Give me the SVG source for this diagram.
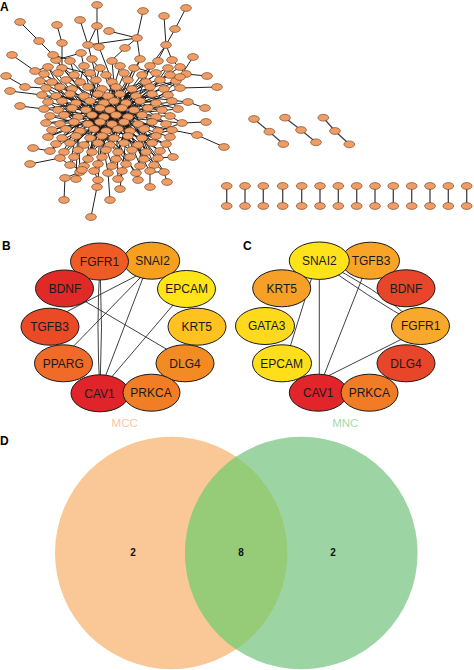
<svg xmlns="http://www.w3.org/2000/svg" xmlns:xlink="http://www.w3.org/1999/xlink" width="474" height="670" viewBox="0 0 474 670">
<style>
.lbl{font-family:"Liberation Sans",Arial,sans-serif;font-weight:bold;font-size:12px;fill:#000}
.nt{font-family:"Liberation Sans",Arial,sans-serif;font-size:12px;fill:#1a1a1a;text-anchor:middle}
.nb{stroke:#1a1a1a;stroke-width:1}
.e{stroke:#2a2a2a;stroke-width:0.9;fill:none}
.ea{stroke:#151515;stroke-width:0.95;fill:none}
.ep{stroke:#444;stroke-width:1.3;fill:none}
.cap{font-family:"Liberation Sans",Arial,sans-serif;font-size:11.5px;text-anchor:middle}
.vn{font-family:"Liberation Sans",Arial,sans-serif;font-size:10px;font-weight:bold;text-anchor:middle;fill:#111}
</style>
<defs>
<ellipse id="nd" cx="0" cy="0" rx="5.4" ry="3.4" fill="#EE9D66" stroke="#6A3A1A" stroke-width="0.6"/>
<clipPath id="clL"><circle cx="171.2" cy="553" r="116.2"/></clipPath>
</defs>
<rect width="474" height="670" fill="#fff"/>

<text class="lbl" x="0" y="11">A</text>
<text class="lbl" x="2" y="250">B</text>
<text class="lbl" x="243" y="250">C</text>
<text class="lbl" x="0" y="445">D</text>

<g id="connectors">
<g id="edges-A">
<path class="ea" d="M104 116L56 60M104 116L92 60M104 116L140 60M104 116L44 74M104 116L90 74M104 116L156 74M104 116L40 81M104 116L112 81M104 116L176 81M104 116L46 88M104 116L150 88M104 116L180 88M104 116L42 95M104 116L168 95M104 116L48 102M104 116L188 102M104 116L44 109M104 116L178 109M104 116L50 116M104 116L170 116M104 116L46 123M104 116L182 123M104 116L52 130M104 116L172 130M104 116L48 137M104 116L170 137M104 116L56 144M104 116L166 144M104 116L50 151M104 116L160 151M104 116L60 158M104 116L158 158M104 116L70 165M104 116L154 165M104 116L80 172M104 116L164 172M104 116L98 179M104 116L138 179"/>
<path class="ea" d="M116 109L70 60M116 109L112 60M116 109L158 60M116 109L62 67M116 109L134 67M116 109L180 67M116 109L74 74M116 109L142 74M116 109L66 81M116 109L146 81M116 109L60 88M116 109L164 88M116 109L56 95M116 109L152 95M116 109L62 102M116 109L172 102M116 109L58 109M116 109L162 109M116 109L64 116M116 109L156 116M116 109L60 123M116 109L166 123M116 109L66 130M116 109L158 130M116 109L62 137M116 109L156 137M116 109L70 144M116 109L152 144M116 109L64 151M116 109L146 151M116 109L74 158M116 109L144 158M116 109L84 165M116 109L140 165M116 109L94 172M116 109L150 172M116 109L118 179"/>
<path class="ea" d="M100 130L48 67M100 130L84 67M100 130L120 67M100 130L58 74M100 130L124 74M100 130L170 74M100 130L52 81M100 130L128 81M100 130L160 81M100 130L72 88M100 130L132 88M100 130L70 95M100 130L136 95M100 130L76 102M100 130L156 102M100 130L72 109M100 130L148 109M100 130L78 116M100 130L142 116M100 130L74 123M100 130L152 123M100 130L80 130M100 130L144 130M100 130L76 137M100 130L142 137M100 130L84 144M100 130L138 144M100 130L78 151M100 130L132 151M100 130L88 158M100 130L130 158M100 130L98 165M100 130L126 165M100 130L108 172M100 130L136 172M100 130L76 179"/>
<path class="ea" d="M128 123L100 67M128 123L150 67M128 123L168 67M128 123L106 74M128 123L186 74M128 123L80 81M128 123L96 81M128 123L88 88M128 123L116 88M128 123L84 95M128 123L98 95M128 123L120 95M128 123L90 102M128 123L140 102M128 123L86 109M128 123L134 109M128 123L92 116M128 123L116 116M128 123L88 123M128 123L138 123M128 123L94 130M128 123L130 130M128 123L90 137M128 123L128 137M128 123L98 144M128 123L124 144M128 123L92 151M128 123L118 151M128 123L102 158M128 123L116 158M128 123L112 165M128 123L122 172"/>
<path class="ea" d="M90 102L56 60M90 102L100 67M90 102L44 74M90 102L146 81M90 102L42 95M90 102L156 102M90 102L44 109M90 102L62 137M90 102L92 151M90 102L88 158M90 102L112 165M124 95L92 60M124 95L140 60M124 95L168 67M124 95L170 74M124 95L176 81M124 95L102 88M124 95L188 102M124 95L178 109M124 95L170 116M124 95L166 123M124 95L158 130M124 95L152 144M124 95L146 151M124 95L130 158M142 137L104 102M142 137L114 102M142 137L162 109M142 137L182 123M142 137L172 130M142 137L166 144M142 137L160 151M142 137L158 158M142 137L154 165M142 137L164 172M142 137L138 179M78 123L48 67M78 123L52 81M78 123L46 88M78 123L56 95M78 123L48 102M78 123L58 109M78 123L50 116M78 123L46 123M78 123L52 130M78 123L48 137M78 123L56 144M78 123L50 151M78 123L60 158M78 123L70 165M78 123L80 172M78 123L76 179"/>
<path class="ea" d="M62 67L90 74M150 67L142 74M134 67L156 74M84 67L80 81M70 60L74 74M172 60L186 74M40 81L52 81M160 81L180 88M42 95L48 102M172 102L178 109M50 116L46 123M170 116L182 123M52 130L48 137M172 130L170 137M56 144L50 151M166 144L160 151M60 158L70 165M158 158L154 165M80 172L76 179M164 172L150 172M94 172L98 179M122 172L118 179"/>
<path class="ea" d="M97 5L97 26M97 26L88 45M97 26L99 47M88 45L137 38M109 31L137 38M143 11L137 38M137 38L125 48M137 38L140 60M186 8L175 29M175 29L166 45M164 16L166 45M166 45L158 60M166 45L172 60M166 45L150 67M20 22L39 41M39 41L53 55M53 55L70 60M53 55L56 60M57 25L62 43M62 43L62 67M80 20L88 45M88 45L92 60M125 48L112 60M99 47L112 81M81 53L84 67M81 53L56 60M12 55L35 71M35 71L44 74M35 71L48 67M6 76L25 87M25 87L46 88M10 91L42 95M20 106L44 109M193 57L180 77M180 77L170 74M180 77L186 74M207 76L186 74M217 87L180 88M205 108L188 102M206 122L182 123M197 135L172 130M224 147L197 135M33 148L50 151M30 164L60 158M65 178L64 200M65 178L80 172M82 170L70 165M91 217L97 187M97 187L98 179M110 200L108 172M120 189L122 172M138 179L136 172M150 187L150 172M167 182L164 172M173 157L158 158M173 157L166 144"/>
<path class="ep" d="M254 119L269.3 131.7L283.3 144M285 117.7L301 130L316 142.3M323.3 117.7L335 131L349.3 144.3M226.7 186V206M245 186V206M263.3 186V206M282.7 186V206M301.7 186V206M320 186V206M338.3 186V206M356.7 186V206M375 186V206M393.3 186V206M411.7 186V206M430 186V206M448.3 186V206M466.7 186V206"/>
</g>
<g id="edges-B">
<path class="e" d="M100 262Q96 327 100 393M100 262Q103 327 100 393"/>
<path class="e" d="M151.7 268L50 320.3"/>
<path class="e" d="M151.7 266L63 357"/>
<path class="e" d="M149 262L99 393"/>
<path class="e" d="M186.7 289L98 393"/>
<path class="e" d="M65 289.5L185 360"/>
</g>
<g id="edges-C">
<path class="e" d="M319.3 261L319.3 393"/>
<path class="e" d="M317 261L285 363"/>
<path class="e" d="M369 261L317 393"/>
<path class="e" d="M319 261Q366 296 420 326M319 261Q373 285 420 326"/>
<path class="e" d="M420 330L318 381"/>
</g>
</g>

<g id="nodes-A">
<use id="a1" href="#nd" x="81" y="53"/><use id="a2" href="#nd" x="99" y="47"/><use id="a3" href="#nd" x="125" y="48"/><use id="a4" href="#nd" x="166" y="45"/>
<use href="#nd" x="56" y="60"/><use href="#nd" x="70" y="61"/><use href="#nd" x="92" y="59"/><use href="#nd" x="112" y="61"/><use href="#nd" x="140" y="59"/><use href="#nd" x="158" y="61"/><use href="#nd" x="172" y="60"/>
<use href="#nd" x="48" y="67"/><use href="#nd" x="62" y="68"/><use href="#nd" x="84" y="66"/><use href="#nd" x="100" y="68"/><use href="#nd" x="120" y="66"/><use href="#nd" x="134" y="68"/><use href="#nd" x="150" y="66"/><use href="#nd" x="168" y="68"/><use href="#nd" x="180" y="67"/>
<use href="#nd" x="44" y="74"/><use href="#nd" x="58" y="73"/><use href="#nd" x="74" y="75"/><use href="#nd" x="90" y="73"/><use href="#nd" x="106" y="75"/><use href="#nd" x="124" y="73"/><use href="#nd" x="142" y="75"/><use href="#nd" x="156" y="73"/><use href="#nd" x="170" y="75"/><use href="#nd" x="186" y="74"/>
<use href="#nd" x="40" y="81"/><use href="#nd" x="52" y="82"/><use href="#nd" x="66" y="80"/><use href="#nd" x="80" y="82"/><use href="#nd" x="96" y="80"/><use href="#nd" x="112" y="82"/><use href="#nd" x="128" y="80"/><use href="#nd" x="146" y="82"/><use href="#nd" x="160" y="80"/><use href="#nd" x="176" y="81"/>
<use href="#nd" x="46" y="88"/><use href="#nd" x="60" y="87"/><use href="#nd" x="72" y="89"/><use href="#nd" x="88" y="87"/><use href="#nd" x="102" y="89"/><use href="#nd" x="116" y="87"/><use href="#nd" x="132" y="89"/><use href="#nd" x="150" y="87"/><use href="#nd" x="164" y="89"/><use href="#nd" x="180" y="88"/>
<use href="#nd" x="42" y="95"/><use href="#nd" x="56" y="96"/><use href="#nd" x="70" y="94"/><use href="#nd" x="84" y="96"/><use href="#nd" x="98" y="94"/><use href="#nd" x="108" y="96"/><use href="#nd" x="120" y="94"/><use href="#nd" x="136" y="96"/><use href="#nd" x="152" y="94"/><use href="#nd" x="168" y="95"/>
<use href="#nd" x="48" y="102"/><use href="#nd" x="62" y="101"/><use href="#nd" x="76" y="103"/><use href="#nd" x="90" y="101"/><use href="#nd" x="104" y="103"/><use href="#nd" x="114" y="101"/><use href="#nd" x="126" y="103"/><use href="#nd" x="140" y="101"/><use href="#nd" x="156" y="103"/><use href="#nd" x="172" y="101"/><use href="#nd" x="188" y="102"/>
<use href="#nd" x="44" y="109"/><use href="#nd" x="58" y="110"/><use href="#nd" x="72" y="108"/><use href="#nd" x="86" y="110"/><use href="#nd" x="100" y="108"/><use href="#nd" x="110" y="110"/><use href="#nd" x="122" y="108"/><use href="#nd" x="134" y="110"/><use href="#nd" x="148" y="108"/><use href="#nd" x="162" y="110"/><use href="#nd" x="178" y="109"/>
<use href="#nd" x="50" y="116"/><use href="#nd" x="64" y="115"/><use href="#nd" x="78" y="117"/><use href="#nd" x="92" y="115"/><use href="#nd" x="104" y="117"/><use href="#nd" x="116" y="115"/><use href="#nd" x="128" y="117"/><use href="#nd" x="142" y="115"/><use href="#nd" x="156" y="117"/><use href="#nd" x="170" y="116"/>
<use href="#nd" x="46" y="123"/><use href="#nd" x="60" y="124"/><use href="#nd" x="74" y="122"/><use href="#nd" x="88" y="124"/><use href="#nd" x="100" y="122"/><use href="#nd" x="112" y="124"/><use href="#nd" x="124" y="122"/><use href="#nd" x="138" y="124"/><use href="#nd" x="152" y="122"/><use href="#nd" x="166" y="124"/><use href="#nd" x="182" y="123"/>
<use href="#nd" x="52" y="130"/><use href="#nd" x="66" y="129"/><use href="#nd" x="80" y="131"/><use href="#nd" x="94" y="129"/><use href="#nd" x="106" y="131"/><use href="#nd" x="118" y="129"/><use href="#nd" x="130" y="131"/><use href="#nd" x="144" y="129"/><use href="#nd" x="158" y="131"/><use href="#nd" x="172" y="130"/>
<use href="#nd" x="48" y="137"/><use href="#nd" x="62" y="138"/><use href="#nd" x="76" y="136"/><use href="#nd" x="90" y="138"/><use href="#nd" x="102" y="136"/><use href="#nd" x="114" y="138"/><use href="#nd" x="128" y="136"/><use href="#nd" x="142" y="138"/><use href="#nd" x="156" y="136"/><use href="#nd" x="170" y="137"/>
<use href="#nd" x="56" y="144"/><use href="#nd" x="70" y="143"/><use href="#nd" x="84" y="145"/><use href="#nd" x="98" y="143"/><use href="#nd" x="110" y="145"/><use href="#nd" x="124" y="143"/><use href="#nd" x="138" y="145"/><use href="#nd" x="152" y="143"/><use href="#nd" x="166" y="144"/>
<use href="#nd" x="50" y="151"/><use href="#nd" x="64" y="152"/><use href="#nd" x="78" y="150"/><use href="#nd" x="92" y="152"/><use href="#nd" x="106" y="150"/><use href="#nd" x="118" y="152"/><use href="#nd" x="132" y="150"/><use href="#nd" x="146" y="152"/><use href="#nd" x="160" y="151"/>
<use href="#nd" x="60" y="158"/><use href="#nd" x="74" y="157"/><use href="#nd" x="88" y="159"/><use href="#nd" x="102" y="157"/><use href="#nd" x="116" y="159"/><use href="#nd" x="130" y="157"/><use href="#nd" x="144" y="159"/><use href="#nd" x="158" y="158"/>
<use href="#nd" x="70" y="165"/><use href="#nd" x="84" y="166"/><use href="#nd" x="98" y="164"/><use href="#nd" x="112" y="166"/><use href="#nd" x="126" y="164"/><use href="#nd" x="140" y="166"/><use href="#nd" x="154" y="165"/>
<use href="#nd" x="80" y="172"/><use href="#nd" x="94" y="171"/><use href="#nd" x="108" y="173"/><use href="#nd" x="122" y="171"/><use href="#nd" x="136" y="173"/><use href="#nd" x="150" y="171"/><use href="#nd" x="164" y="172"/>
<use href="#nd" x="76" y="179"/><use href="#nd" x="98" y="180"/><use href="#nd" x="118" y="179"/><use href="#nd" x="138" y="180"/>
<use href="#nd" x="97" y="5"/><use href="#nd" x="97" y="26"/><use href="#nd" x="143" y="11"/><use href="#nd" x="186" y="8"/><use href="#nd" x="175" y="29"/><use href="#nd" x="164" y="16"/><use href="#nd" x="20" y="22"/><use href="#nd" x="39" y="41"/><use href="#nd" x="53" y="55"/><use href="#nd" x="57" y="25"/><use href="#nd" x="62" y="43"/><use href="#nd" x="80" y="20"/><use href="#nd" x="88" y="45"/><use href="#nd" x="109" y="31"/><use href="#nd" x="137" y="38"/>
<use href="#nd" x="12" y="55"/><use href="#nd" x="35" y="71"/><use href="#nd" x="6" y="76"/><use href="#nd" x="25" y="87"/><use href="#nd" x="10" y="91"/><use href="#nd" x="20" y="106"/><use href="#nd" x="193" y="57"/><use href="#nd" x="180" y="77"/><use href="#nd" x="207" y="76"/><use href="#nd" x="217" y="87"/><use href="#nd" x="205" y="108"/><use href="#nd" x="206" y="122"/><use href="#nd" x="197" y="135"/><use href="#nd" x="224" y="147"/>
<use href="#nd" x="33" y="148"/><use href="#nd" x="30" y="164"/><use href="#nd" x="65" y="178"/><use href="#nd" x="64" y="200"/><use href="#nd" x="82" y="170"/><use href="#nd" x="91" y="217"/><use href="#nd" x="97" y="187"/><use href="#nd" x="110" y="200"/><use href="#nd" x="120" y="189"/><use href="#nd" x="150" y="187"/><use href="#nd" x="167" y="182"/><use href="#nd" x="173" y="157"/>
<use href="#nd" x="254" y="119"/><use href="#nd" x="269.3" y="131.7"/><use href="#nd" x="283.3" y="144"/><use href="#nd" x="285" y="117.7"/><use href="#nd" x="301" y="130"/><use href="#nd" x="316" y="142.3"/><use href="#nd" x="323.3" y="117.7"/><use href="#nd" x="335" y="131"/><use href="#nd" x="349.3" y="144.3"/>
<use href="#nd" x="226.7" y="186"/><use href="#nd" x="245" y="186"/><use href="#nd" x="263.3" y="186"/><use href="#nd" x="282.7" y="186"/><use href="#nd" x="301.7" y="186"/><use href="#nd" x="320" y="186"/><use href="#nd" x="338.3" y="186"/><use href="#nd" x="356.7" y="186"/><use href="#nd" x="375" y="186"/><use href="#nd" x="393.3" y="186"/><use href="#nd" x="411.7" y="186"/><use href="#nd" x="430" y="186"/><use href="#nd" x="448.3" y="186"/><use href="#nd" x="466.7" y="186"/>
<use href="#nd" x="226.7" y="206"/><use href="#nd" x="245" y="206"/><use href="#nd" x="263.3" y="206"/><use href="#nd" x="282.7" y="206"/><use href="#nd" x="301.7" y="206"/><use href="#nd" x="320" y="206"/><use href="#nd" x="338.3" y="206"/><use href="#nd" x="356.7" y="206"/><use href="#nd" x="375" y="206"/><use href="#nd" x="393.3" y="206"/><use href="#nd" x="411.7" y="206"/><use href="#nd" x="430" y="206"/><use href="#nd" x="448.3" y="206"/><use href="#nd" x="466.7" y="206"/>
</g>

<g id="panel-B">
<g id="b-snai2"><ellipse class="nb" cx="151.7" cy="260.7" rx="28" ry="18.5" fill="#F7A01F"/><text class="nt" x="152.5" y="265">SNAI2</text></g>
<g id="b-fgfr1"><ellipse class="nb" cx="99.5" cy="261.5" rx="29" ry="18.5" fill="#EF5B25"/><text class="nt" x="99.5" y="266">FGFR1</text></g>
<g id="b-bdnf"><ellipse class="nb" cx="64.5" cy="288.5" rx="29" ry="18.5" fill="#DF2A27"/><text class="nt" x="65" y="293">BDNF</text></g>
<g id="b-epcam"><ellipse class="nb" cx="186.5" cy="289" rx="29" ry="18.5" fill="#FFE418"/><text class="nt" x="186.7" y="293.3">EPCAM</text></g>
<g id="b-tgfb3"><ellipse class="nb" cx="50" cy="326.7" rx="29" ry="18.5" fill="#EB4A26"/><text class="nt" x="49.5" y="331">TGFB3</text></g>
<g id="b-krt5"><ellipse class="nb" cx="197" cy="326.7" rx="29" ry="18.5" fill="#FFC21F"/><text class="nt" x="196.7" y="331">KRT5</text></g>
<g id="b-pparg"><ellipse class="nb" cx="63.5" cy="363.3" rx="29" ry="18.5" fill="#F06A28"/><text class="nt" x="63.3" y="367.6">PPARG</text></g>
<g id="b-dlg4"><ellipse class="nb" cx="185" cy="363.3" rx="29" ry="18.5" fill="#F38B24"/><text class="nt" x="185" y="367.6">DLG4</text></g>
<g id="b-cav1"><ellipse class="nb" cx="100" cy="393.3" rx="29" ry="18.5" fill="#E1232A"/><text class="nt" x="99.5" y="397.6">CAV1</text></g>
<g id="b-prkca"><ellipse class="nb" cx="151.5" cy="392.7" rx="28.5" ry="18.5" fill="#F27D25"/><text class="nt" x="151" y="397">PRKCA</text></g>
<text id="b-cap" class="cap" x="124.7" y="427" fill="#F8C6A0">MCC</text>
</g>

<g id="panel-C">
<g id="c-tgfb3"><ellipse class="nb" cx="370.5" cy="260.7" rx="29" ry="18.5" fill="#F8A427"/><text class="nt" x="371" y="265">TGFB3</text></g>
<g id="c-snai2"><ellipse class="nb" cx="319.3" cy="260.7" rx="30" ry="18.7" fill="#FFE31A"/><text class="nt" x="319.3" y="265">SNAI2</text></g>
<g id="c-krt5"><ellipse class="nb" cx="281.7" cy="288.3" rx="29" ry="18.5" fill="#F7A027"/><text class="nt" x="281.7" y="292.6">KRT5</text></g>
<g id="c-bdnf"><ellipse class="nb" cx="406" cy="288.3" rx="29" ry="18.5" fill="#E8452A"/><text class="nt" x="406" y="292.6">BDNF</text></g>
<g id="c-gata3"><ellipse class="nb" cx="265" cy="326" rx="29.5" ry="18.5" fill="#FFDA1C"/><text class="nt" x="266.7" y="330.3">GATA3</text></g>
<g id="c-fgfr1"><ellipse class="nb" cx="420.5" cy="326" rx="29" ry="18.5" fill="#F8A82A"/><text class="nt" x="420.7" y="330.3">FGFR1</text></g>
<g id="c-epcam"><ellipse class="nb" cx="282" cy="363.3" rx="29.5" ry="18.5" fill="#FFDE1C"/><text class="nt" x="281.7" y="367.6">EPCAM</text></g>
<g id="c-dlg4"><ellipse class="nb" cx="406" cy="363.3" rx="29" ry="18.5" fill="#E8462A"/><text class="nt" x="406" y="367.6">DLG4</text></g>
<g id="c-cav1"><ellipse class="nb" cx="318.3" cy="392.7" rx="29" ry="18.5" fill="#E1252B"/><text class="nt" x="318.3" y="397">CAV1</text></g>
<g id="c-prkca"><ellipse class="nb" cx="369.5" cy="392.7" rx="28.5" ry="18.5" fill="#F27C25"/><text class="nt" x="369.3" y="397">PRKCA</text></g>
<text id="c-cap" class="cap" x="345.3" y="427" fill="#A6D8B0">MNC</text>
</g>

<g id="panel-D">
<g id="venn-mcc"><circle cx="171.2" cy="553" r="116.2" fill="#FAC896"/></g>
<g id="venn-mnc"><circle cx="301.3" cy="553" r="116.3" fill="#9DD4A4"/></g>
<g id="venn-overlap"><circle cx="301.3" cy="553" r="116.3" fill="#96CB78" clip-path="url(#clL)"/></g>
<text class="vn" x="133" y="556">2</text>
<text class="vn" x="241" y="556">8</text>
<text class="vn" x="333" y="556">2</text>
</g>
</svg>
